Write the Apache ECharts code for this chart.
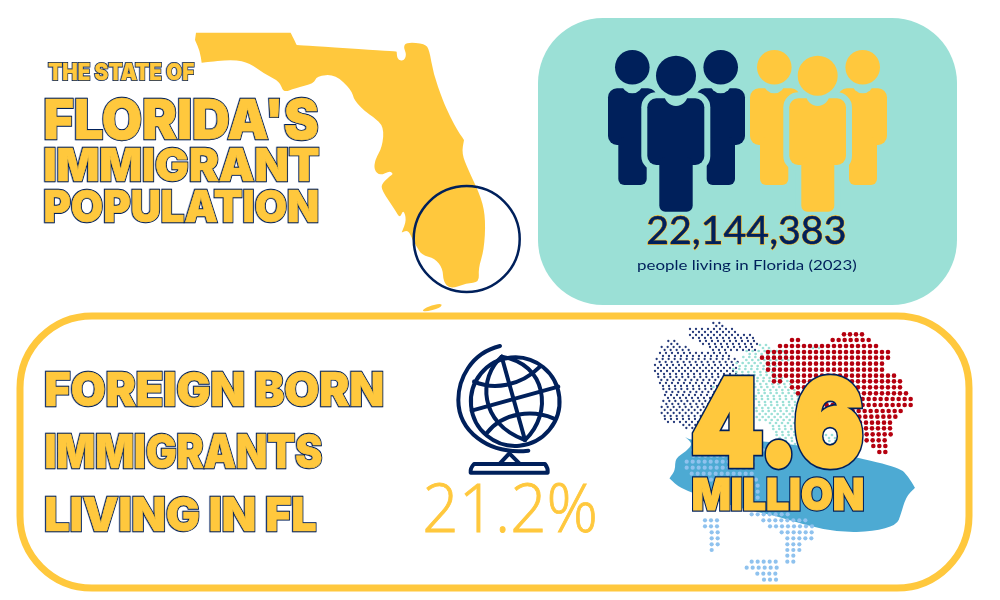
<!DOCTYPE html>
<html>
<head>
<meta charset="utf-8">
<title>Florida immigrant population</title>
<script src="https://cdn.jsdelivr.net/npm/echarts@6/dist/echarts.min.js"></script>
<style>
    html, body { margin: 0; padding: 0; background: #fff; }
    #container { width: 1000px; height: 600px; }
</style>
</head>
<body>
<div id="container"></div>
<script>
// the numbers on the page
const populationTotal = 22144383;
const populationYear = 2023;
const foreignBornShare = 21.2;
const foreignBornMillions = 4.6;

const titleLines = ['THE STATE OF', "FLORIDA'S", 'IMMIGRANT', 'POPULATION'];
const foreignLines = ['FOREIGN BORN', 'IMMIGRANTS', 'LIVING IN FL'];

// dot map rows: [row, from, to] on the map's own axes
const navyRows = [[24,220,255],[42,150,290],[60,150,340],[78,85,110],[78,180,350],[96,65,150],[96,210,345],[114,60,270],
    [132,50,285],[150,45,285],[168,45,280],[186,55,265],[204,60,250],[222,70,240],[240,75,230],[258,70,215],
    [276,65,205],[294,65,195],[312,75,185],[330,130,170]];
const tealRows = [[90,360,380],[90,510,530],[108,320,440],[126,310,450],[144,290,400],[162,280,400],[180,290,420],
    [198,280,450],[216,220,460],[234,230,480],[252,240,490],[270,340,490],[288,350,480],[306,350,480],
    [324,390,480],[342,400,480],[360,410,480],[360,540,600],[378,420,480],[378,550,600]];
const redRows = [[58,612,668],[75,456,474],[75,578,686],[93,420,722],[111,384,758],[128,366,758],[146,384,740],[164,384,740],
    [182,402,776],[199,402,420],[199,456,794],[217,456,794],[235,474,812],[252,560,812],[270,560,812],[288,620,794],
    [305,640,776],[323,660,758],[340,660,758],[358,680,758],[376,680,740],[393,700,740],[411,718,740]];
const skyRows = [[405,160,250],[405,350,380],[422,160,345],[440,140,340],[458,140,340],[476,155,340],[494,195,215],[494,330,360],
    [512,335,360],[530,335,360],[548,335,360],[598,335,460],[616,195,235],[616,370,500],[634,195,235],[634,390,520],
    [652,215,235],[652,425,530],[670,215,235],[670,442,515],[688,215,235],[688,442,480],[705,215,215],[705,442,480],
    [722,442,462],[740,335,410],[740,442,462],[758,320,410],[776,352,410],[794,372,410]];

const YELLOW = '#FFC83D';
const NAVY = '#00205B';
const TEAL = '#9BE0D6';
const HALO = '#a3aec6';

function squareDots(rows) {
    let out = [];
    rows.forEach(function (r) {
        for (let x = r[1]; x <= r[2]; x += 18) out.push([x, r[0]]);
    });
    return out;
}

// every listed row also gets an offset row under it
function diamondDots(rows) {
    let out = [];
    rows.forEach(function (r) {
        for (let x = r[1]; x <= r[2]; x += 18) {
            out.push([x, r[0]]);
            out.push([x + 9, r[0] + 9]);
        }
    });
    return out;
}

const measureCtx = document.createElement('canvas').getContext('2d');

function fitText(str, x0, x1, y0, y1, font, fill, stroke, lineWidth, z) {
    let size = Math.round((y1 - y0) / 0.72);
    let fontStr = font.replace('SIZE', size + 'px');
    measureCtx.font = fontStr;
    measureCtx.textBaseline = 'middle';
    measureCtx.textAlign = 'left';
    let m = measureCtx.measureText(str);
    let sx = (x1 - x0) / (m.actualBoundingBoxLeft + m.actualBoundingBoxRight);
    let sy = (y1 - y0) / (m.actualBoundingBoxAscent + m.actualBoundingBoxDescent);
    return {
        type: 'text',
        z: z || 20,
        silent: true,
        x: x0 + m.actualBoundingBoxLeft * sx,
        y: y0 + m.actualBoundingBoxAscent * sy,
        scaleX: sx,
        scaleY: sy,
        style: {
            text: str,
            font: fontStr,
            fill: fill,
            stroke: stroke,
            lineWidth: (lineWidth || 0) / ((sx + sy) / 2),
            lineJoin: 'miter',
            miterLimit: 2.5,
            textAlign: 'left',
            textVerticalAlign: 'middle'
        }
    };
}

// yellow letters with a navy rim and a faint halo
function heavyText(str, x0, x1, y0, y1, fat, rim, halo) {
    let pad = fat / 2;
    let inner = [x0 + pad, x1 - pad, y0 + pad, y1 - pad];
    let out = [];
    if (halo) {
        let h = fitText(str, inner[0], inner[1], inner[2], inner[3], HEAVY, HALO, HALO, fat + rim * 2);
        h.x -= 0.6;
        h.y += 0.5;
        out.push(h);
    }
    out.push(fitText(str, inner[0], inner[1], inner[2], inner[3], HEAVY, NAVY, NAVY, fat + rim * 2));
    out.push(fitText(str, inner[0], inner[1], inner[2], inner[3], HEAVY, YELLOW, YELLOW, fat));
    return out;
}

function person(headX, headY, headR, bx0, bx1, by0, by1, lx0, lx1, ly1, notchY, notchR, color, halo) {
    let parts = [];
    if (halo) {
        parts.push({ type: 'rect', z: 5, silent: true, shape: { x: bx0 - 6, y: by0 - 6, width: bx1 - bx0 + 12, height: by1 - by0 + 12, r: 15 }, style: { fill: TEAL } });
        parts.push({ type: 'rect', z: 5, silent: true, shape: { x: lx0 - 6, y: by1, width: lx1 - lx0 + 12, height: ly1 - by1 + 6, r: 10 }, style: { fill: TEAL } });
    }
    let z = halo ? 6 : 4;
    parts.push({ type: 'rect', z: z, silent: true, shape: { x: bx0, y: by0, width: bx1 - bx0, height: by1 - by0, r: 9 }, style: { fill: color } });
    parts.push({ type: 'rect', z: z, silent: true, shape: { x: lx0, y: by1 - 8, width: lx1 - lx0, height: ly1 - by1 + 8, r: 6 }, style: { fill: color } });
    parts.push({ type: 'circle', z: z, silent: true, shape: { cx: headX, cy: notchY, r: notchR }, style: { fill: TEAL } });
    parts.push({ type: 'circle', z: z, silent: true, shape: { cx: headX, cy: headY, r: headR }, style: { fill: color } });
    return parts;
}

// outline of the state; a point listed twice stays a sharp corner
const floridaPoints = [[528,38],[528,38],[812,38],[812,38],[830,75],[830,75],[1130,95],[1130,95],[1132,118],[1150,124],[1160,105],[1150,80],[1160,67],
    [1215,71],[1228,90],[1240,160],[1268,240],[1290,290],[1315,335],[1332,360],[1332,360],[1325,400],[1345,450],[1385,535],[1397,600],[1392,690],
    [1375,745],[1378,787],[1340,790],[1290,807],[1270,785],[1268,745],[1245,716],[1205,705],[1190,680],[1178,660],[1165,630],[1145,637],[1145,637],
    [1160,600],[1150,568],[1140,595],[1125,570],[1085,510],[1085,490],[1118,462],[1118,462],[1110,452],[1080,467],[1062,450],[1065,420],[1087,380],
    [1092,320],[1060,290],[1035,275],[1002,240],[995,210],[945,163],[890,168],[882,190],[825,205],[790,218],[780,185],[730,160],[690,130],[640,118],
    [545,128],[545,128],[540,95],[525,60],[525,60]];
const keysPoints = [[1205,870],[1235,855],[1268,850],[1260,864],[1215,876]];

const brushPoints = [[135,366],[135,366],[160,378],[400,375],[640,425],[780,458],[805,485],[825,518],[825,518],[798,545],[782,600],[770,630],[700,650],[600,652],
    [500,632],[400,600],[300,580],[200,548],[120,520],[88,490],[88,490],[106,465],[105,430],[140,408],[158,385]];

function smoothPath(points) {
    let d = '';
    let n = points.length;
    for (let i = 0; i < n; i++) {
        let p = points[i];
        let q = points[(i + 1) % n];
        let mx = (p[0] + q[0]) / 2;
        let my = (p[1] + q[1]) / 2;
        if (i === 0) {
            let last = points[n - 1];
            d += 'M' + (last[0] + p[0]) / 2 + ',' + (last[1] + p[1]) / 2 + ' ';
        }
        d += 'Q' + p[0] + ',' + p[1] + ' ' + mx + ',' + my + ' ';
    }
    return d + 'Z';
}

const globePaths = [
    'M328,172 A133,133 0 1,1 327.9,171 Z',
    'M155,50 L225,300',
    'M155,50 C85,110 85,250 225,300',
    'M155,50 C290,70 310,220 225,300',
    'M72,125 C130,150 210,140 270,80',
    'M65,212 L325,140',
    'M110,280 C160,215 250,210 310,235',
    'M150,18 C60,40 25,120 25,180 C25,270 110,345 235,332',
    'M150,370 L178,340 L208,370',
    'M72,372 L285,372 Q295,385 293,398 L62,398 Q60,385 72,372 Z'
];

// the graphic component has no plain svg path type, so register them
function pathShape(name, d) {
    echarts.graphic.registerShape(name, echarts.graphic.extendPath(d, {}));
    return name;
}

let graphics = [
    // teal panel
    { type: 'rect', z: 0, silent: true, shape: { x: 538, y: 18, width: 419, height: 287, r: 65 }, style: { fill: TEAL } },
    // lower panel
    { type: 'rect', z: 0, silent: true, shape: { x: 20, y: 316, width: 949, height: 272, r: 72 }, style: { fill: '#fff', stroke: YELLOW, lineWidth: 7 } },
    // state map, ring
    { type: pathShape('florida', smoothPath(floridaPoints)), z: 1, silent: true, x: 20, y: 20, scaleX: 1 / 3, scaleY: 1 / 3, style: { fill: YELLOW } },
    { type: pathShape('keys', smoothPath(keysPoints)), z: 1, silent: true, x: 20, y: 20, scaleX: 1 / 3, scaleY: 1 / 3, style: { fill: YELLOW } },
    { type: 'circle', z: 2, silent: true, shape: { cx: 466.7, cy: 239, r: 53 }, style: { fill: 'none', stroke: NAVY, lineWidth: 2.5 } },
    // paint stroke under the dots
    { type: pathShape('brush', smoothPath(brushPoints)), z: 1, silent: true, x: 640, y: 315, scaleX: 1 / 3, scaleY: 1 / 3, style: { fill: '#4DAAD3' } }
];

globePaths.forEach(function (d, i) {
    graphics.push({ type: pathShape('globe' + i, d), z: 3, silent: true, x: 450, y: 340, scaleX: 1 / 3, scaleY: 1 / 3,
        style: { fill: 'none', stroke: NAVY, lineWidth: 12, lineCap: 'round', lineJoin: 'round' } });
});

graphics = graphics.concat(
    person(632.3, 67.3, 17.3, 608, 657, 88.3, 145, 618.3, 646.7, 185, 82.7, 10.6, NAVY),
    person(720.7, 67.3, 17.3, 696, 745, 88.3, 145, 706.7, 735, 185, 82.7, 10.6, NAVY),
    person(676, 75.7, 20, 647.3, 704.3, 98.3, 165, 659.3, 692.7, 211.7, 94.3, 11.7, NAVY, true),
    person(774.3, 67.3, 17.3, 750, 800, 88.3, 145, 760, 788.3, 185, 82.7, 10.6, YELLOW),
    person(862.7, 67.3, 17.3, 838, 887, 88.3, 145, 849, 877, 185, 82.7, 10.6, YELLOW),
    person(817.7, 75.7, 20, 789.3, 846, 98.3, 165, 801.3, 834.3, 211.7, 94.3, 11.7, YELLOW, true)
);

const HEAVY = '900 SIZE Inter, Lato, sans-serif';
graphics = graphics.concat(
    heavyText(titleLines[0], 48, 194, 63, 80, 0.3, 0.7, true),
    heavyText(titleLines[1], 45, 318, 98, 140, 0.6, 0.9, true),
    heavyText(titleLines[2], 45, 319, 147, 182, 0.6, 0.9, true),
    heavyText(titleLines[3], 45, 318, 189, 222, 0.6, 0.9, true),
    heavyText(foreignLines[0], 46, 383, 372, 406, 0.6, 0.9, true),
    heavyText(foreignLines[1], 46, 322, 434, 468, 0.6, 0.9, true),
    heavyText(foreignLines[2], 46, 316, 497, 531, 0.6, 0.9, true),
    heavyText(foreignBornMillions.toFixed(1), 693, 863, 375, 468, 5, 1.6),
    heavyText('MILLION', 693, 863, 478, 511, 1.2, 1.1)
);
graphics.push(
    fitText(populationTotal.toLocaleString('en-US'), 648, 845, 217, 250, '400 SIZE Lato, sans-serif', YELLOW, YELLOW, 1.8),
    fitText(populationTotal.toLocaleString('en-US'), 648, 845, 217, 250, '400 SIZE Lato, sans-serif', NAVY, NAVY, 0.5),
    fitText('people living in Florida (' + populationYear + ')', 638, 856, 259, 272, '400 SIZE Lato, sans-serif', NAVY),
    fitText(foreignBornShare + '%', 425, 595, 482, 533, '300 SIZE "Open Sans", sans-serif', YELLOW, YELLOW, 0.8)
);

function dotSeries(data, size, color, z) {
    return {
        type: 'scatter',
        silent: true,
        symbolSize: size,
        z: z,
        itemStyle: { color: color, opacity: 1 },
        data: data
    };
}

const chart = echarts.init(document.getElementById('container'), null, { renderer: 'canvas' });
chart.setOption({
    animation: false,
    backgroundColor: '#fff',
    tooltip: { show: false },
    grid: { left: 640, top: 315, width: 290, height: 275, containLabel: false },
    xAxis: { type: 'value', min: 0, max: 870, show: false },
    yAxis: { type: 'value', min: 0, max: 825, inverse: true, show: false },
    graphic: { elements: graphics },
    series: [
        dotSeries(diamondDots(navyRows), 2.3, '#24397A', 2),
        dotSeries(diamondDots(tealRows), 2.7, TEAL, 3),
        dotSeries(squareDots(redRows), 4.6, '#B5000F', 4),
        dotSeries(squareDots(skyRows), 4.2, '#8FC2EE', 4)
    ]
});
</script>
</body>
</html>
